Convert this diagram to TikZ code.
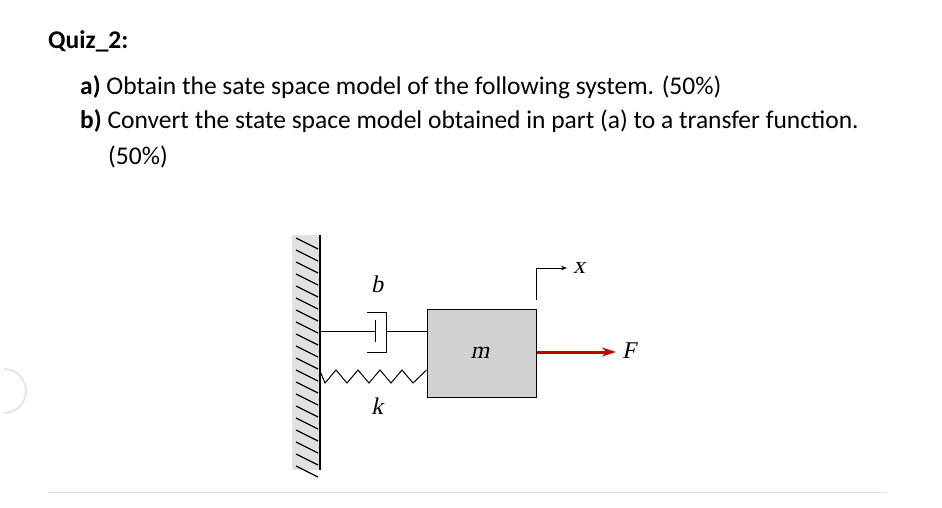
\documentclass[tikz,border=0pt]{standalone}
\usepackage{fontspec}
\setmainfont{Carlito}
\newfontfamily\tms[FakeSlant=0.22]{Liberation Serif}
\usetikzlibrary{arrows.meta}
\begin{document}
\begin{tikzpicture}[x=1pt,y=-1pt,
  txt/.style={anchor=base west,inner sep=0pt,font=\fontsize{25.5}{30}\selectfont},
  lbl/.style={inner sep=0pt,font=\fontsize{24}{28}\selectfont\tms},
  ln/.style={line width=1pt}]
\useasboundingbox (0,0) rectangle (942,507);
\node[txt,font=\fontsize{25.5}{30}\selectfont\bfseries] (q) at (48,48) {Quiz\_2:};
\node[txt] (a) at (80,94) {\textbf{a)} Obtain the sate space model of the following system. (50\%)};
\node[txt] (b) at (80,128) {\textbf{b)} Convert the state space model obtained in part (a) to a transfer function.};
\node[txt] (c) at (108,164) {(50\%)};
\draw[black!12,line width=0.8pt] (48,492) -- (886,492);
\draw[black!10,line width=2pt] (4,413) arc (90:-90:22);
% wall
\fill[black!12] (292,235) rectangle (320,470);
\foreach \y in {238,250,...,466} \draw[line width=1.2pt] (296,\y) -- (318,\y+11);
\draw[line width=1.4pt] (320,235) -- (320,470);
% mass
\node[draw,fill=black!18,ln,minimum width=109pt,minimum height=88pt,inner sep=0pt] (m) at (481.5,353) {};
\node[lbl] (ml) at (480,353) {m};
% damper
\coordinate (d1) at (320,331);
\coordinate (pst) at (375,331);
\draw[ln] (d1) -- (pst);
\draw[ln] (375,320) -- (375,342);
\draw[ln] (367,312) -- (386,312) -- (386,352) -- (367,352);
\draw[ln] (386,331) -- (m.west |- 0,331);
\node[lbl] (bl) at (377,284) {b};
% spring
\coordinate (s1) at (320,371);
\draw[ln] (s1) -- (325,383) -- (336,370) -- (347,383) -- (358,370) -- (369,383) -- (380,370) -- (391,383) -- (402,370) -- (413,383) -- (m.west |- 0,370);
\node[lbl] (kl) at (377,406) {k};
% x
\coordinate (x0) at (536,300);
\draw[line width=0.9pt,-{Stealth[length=6pt]}] (x0) -- (536,268) -- (567,268);
\node[lbl,anchor=west] (xl) at (573,268) {x};
% F
\draw[red!75!black,line width=3pt,-{Stealth[length=14pt,width=9pt]}] (m.east |- 0,352) -- (616,352);
\node[lbl,anchor=west] (fl) at (622,351) {F};
\end{tikzpicture}
\end{document}
